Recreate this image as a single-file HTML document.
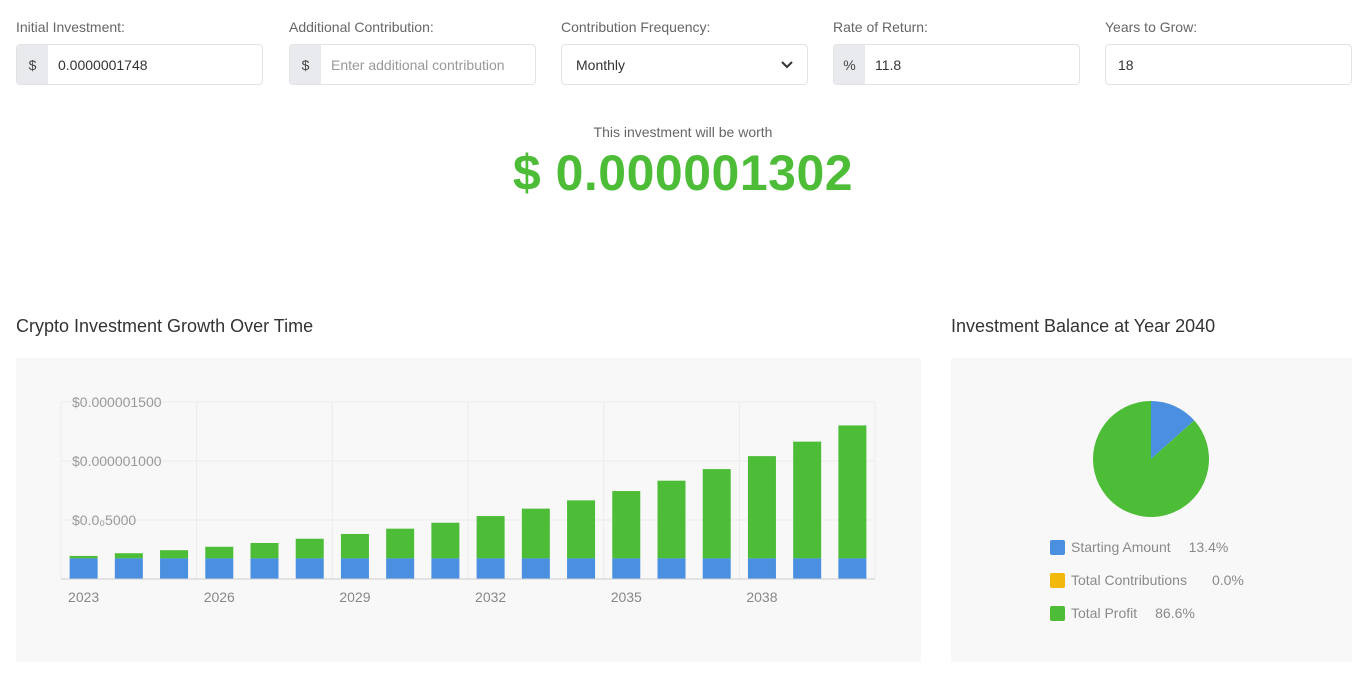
<!DOCTYPE html>
<html><head><meta charset="utf-8"><style>
*{box-sizing:border-box;margin:0;padding:0}
body{width:1366px;height:674px;background:#fff;font-family:"Liberation Sans",sans-serif;color:#555;position:relative;overflow:hidden}
.field{position:absolute;top:18px;width:247px}
.field label{display:block;font-size:14px;color:#666;height:26px;line-height:18px}
.box{height:41px;border:1px solid #e3e3e3;border-radius:4px;display:flex;align-items:center;font-size:14px;color:#333;background:#fff;overflow:hidden}
.pre{width:31px;height:100%;background:#e9eaee;display:flex;align-items:center;justify-content:center;color:#444}
.val{padding-left:10px}
.ph{color:#999}
.abs{position:absolute}
</style></head><body>
<div class="field" style="left:16px"><label>Initial Investment:</label><div class="box"><div class="pre">$</div><span class="val">0.0000001748</span></div></div>
<div class="field" style="left:289px"><label>Additional Contribution:</label><div class="box"><div class="pre">$</div><span class="val ph">Enter additional contribution</span></div></div>
<div class="field" style="left:561px"><label>Contribution Frequency:</label><div class="box" style="justify-content:space-between;padding:0 14px"><span>Monthly</span><svg width="12" height="8"><path d="M1 1l5 5 5-5" stroke="#333" stroke-width="2" fill="none"/></svg></div></div>
<div class="field" style="left:833px"><label>Rate of Return:</label><div class="box"><div class="pre">%</div><span class="val">11.8</span></div></div>
<div class="field" style="left:1105px"><label>Years to Grow:</label><div class="box"><span style="padding-left:12px">18</span></div></div>

<div class="abs" style="left:0;width:1366px;top:124px;text-align:center;font-size:14px;color:#666">This investment will be worth</div>
<div class="abs" style="left:0;width:1366px;top:144px;text-align:center;font-size:50px;font-weight:bold;color:#4dbd38;letter-spacing:0.5px">$ 0.000001302</div>

<div class="abs" style="left:16px;top:316px;font-size:18px;color:#333">Crypto Investment Growth Over Time</div>
<div class="abs" style="left:951px;top:316px;font-size:18px;color:#333">Investment Balance at Year 2040</div>

<div class="abs" style="left:16px;top:358px;width:905px;height:304px;background:#f8f8f8"></div>
<div class="abs" style="left:951px;top:358px;width:401px;height:304px;background:#f8f8f8"></div>

<svg id="bar" class="abs" style="left:0;top:0" width="1366" height="674"></svg>

<div class="abs" style="left:1050px;top:531px;font-size:14px;color:#8a8a8a;line-height:33px">
<div><span style="display:inline-block;width:15px;height:15px;background:#4a8fe0;border-radius:2px;vertical-align:-3px;margin-right:6px"></span>Starting Amount<span style="margin-left:18px">13.4%</span></div>
<div><span style="display:inline-block;width:15px;height:15px;background:#f2b80c;border-radius:2px;vertical-align:-3px;margin-right:6px"></span>Total Contributions<span style="margin-left:25px">0.0%</span></div>
<div><span style="display:inline-block;width:15px;height:15px;background:#4dbd38;border-radius:2px;vertical-align:-3px;margin-right:6px"></span>Total Profit<span style="margin-left:18px">86.6%</span></div>
</div>

<script>
const years=[2023,2024,2025,2026,2027,2028,2029,2030,2031,2032,2033,2034,2035,2036,2037,2038,2039,2040];
const starting=[0.1748,0.1748,0.1748,0.1748,0.1748,0.1748,0.1748,0.1748,0.1748,0.1748,0.1748,0.1748,0.1748,0.1748,0.1748,0.1748,0.1748,0.1748];
const totals=[0.1954,0.2185,0.2443,0.2731,0.3053,0.3413,0.3816,0.4266,0.4770,0.5333,0.5962,0.6665,0.7453,0.8331,0.9314,1.0413,1.1642,1.3016];
const yTicks=[0.5,1.0,1.5];
const yTickLabels=["$0.0\u20805000","$0.000001000","$0.000001500"];
const pieShares=[13.4,0.0,86.6];
const pieColors=["#4a8fe0","#f2b80c","#4dbd38"];

const NS="http://www.w3.org/2000/svg";
const svg=document.getElementById('bar');
const X0=61,X1=875,Y0=579,Ymax=1.5,Ytop=402;
const band=(X1-X0)/years.length;
const xS=i=>X0+band*i;
const yS=v=>Y0-(v/Ymax)*(Y0-Ytop);
function mk(t,a){const e=document.createElementNS(NS,t);for(const k in a)e.setAttribute(k,a[k]);svg.appendChild(e);return e;}
yTicks.forEach((v,i)=>{
 const l=mk('line',{x1:X0,x2:X1,y1:yS(v),y2:yS(v),stroke:'#ececec'});
 
 
});
for(let i=0;i<=years.length;i+=3){
 const l=mk('line',{x1:xS(i),x2:xS(i),y1:Ytop,y2:Y0,stroke:'#ececec'});
 
 
}
const rl=mk('line',{x1:X1,x2:X1,y1:Ytop,y2:Y0,stroke:'#ececec'});


years.forEach((yr,i)=>{
 const cx=xS(i)+band/2,w=28;
 const g=mk('rect',{x:cx-w/2,y:yS(totals[i]),width:w,height:yS(starting[i])-yS(totals[i]),fill:'#4dbd38'});
 
 
 const b=mk('rect',{x:cx-w/2,y:yS(starting[i]),width:w,height:Y0-yS(starting[i]),fill:'#4a8fe0'});
 
 
 if(i%3===0){
  const t=mk('text',{x:cx,y:602,'text-anchor':'middle','font-size':14,fill:'#888','font-family':'Liberation Sans, sans-serif'});
  t.textContent=yr;
  
  
 }
});
const ax=mk('line',{x1:X0,x2:X1,y1:Y0,y2:Y0,stroke:'#ccc'});


yTicks.forEach((v,i)=>{
 const t=mk('text',{x:72,y:yS(v)+5,'font-size':14,fill:'#999','font-family':'Liberation Sans, sans-serif'});
 t.textContent=yTickLabels[i];
 
 
});
const cx=1151,cy=459,r=58;let a0=-Math.PI/2;
pieShares.forEach((s,i)=>{
 if(s<=0)return;
 const a1=a0+s/100*2*Math.PI;
 const large=(a1-a0)>Math.PI?1:0;
 const d=`M${cx},${cy}L${cx+r*Math.cos(a0)},${cy+r*Math.sin(a0)}A${r},${r} 0 ${large} 1 ${cx+r*Math.cos(a1)},${cy+r*Math.sin(a1)}Z`;
 const p=mk('path',{d:d,fill:pieColors[i]});
 
 
 a0=a1;
});
</script>
</body></html>
